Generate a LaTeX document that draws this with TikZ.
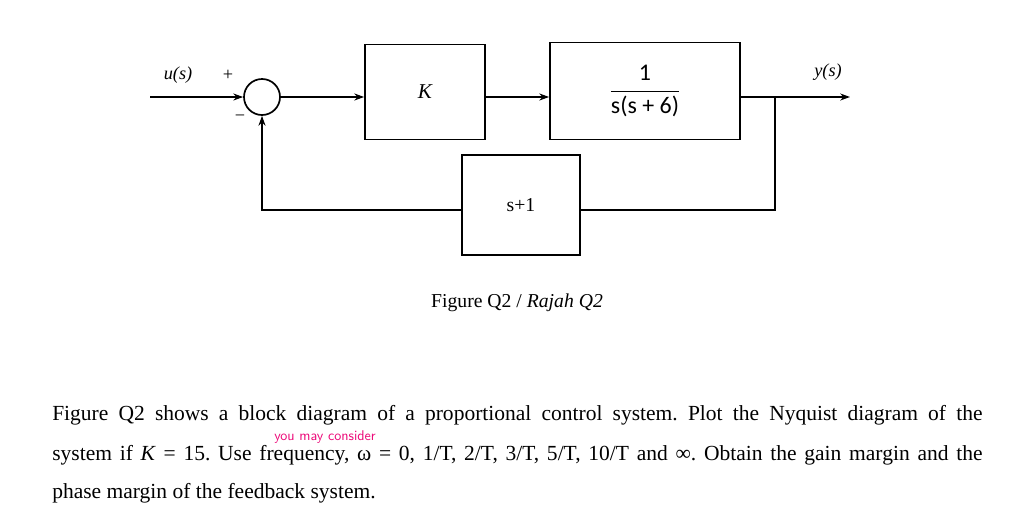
\documentclass[tikz,border=0pt]{standalone}
\usepackage{fontspec}
\setmainfont{Liberation Serif}
\newfontfamily\calib{Carlito}
\usetikzlibrary{arrows.meta}
\frenchspacing
\begin{document}
\begin{tikzpicture}[x=0.025cm,y=-0.025cm,
  blk/.style={draw,line width=1.2pt,inner sep=0},
  ln/.style={line width=1pt},
  arr/.style={ln,-{Stealth[length=7pt,width=5pt]}},
  para/.style={anchor=west,inner sep=0,font=\fontsize{15.3}{17}\selectfont}]
\useasboundingbox (0,0) rectangle (1036,526);
\node[circle,draw,line width=1.2pt,minimum size=0.9cm,inner sep=0] (sum) at (262,97) {};
\node[blk,minimum width=3cm,minimum height=2.38cm] (K) at (425,92) {\fontsize{15}{17}\selectfont\itshape K};
\node[blk,minimum width=4.75cm,minimum height=2.42cm] (G) at (645,91) {\calib\fontsize{17}{19}\selectfont$\displaystyle\frac{\textrm{\calib 1}}{\textrm{\calib s(s + 6)}}$};
\node[blk,minimum width=2.95cm,minimum height=2.5cm] (H) at (521,205) {\fontsize{14}{16}\selectfont s+1};
\coordinate (in) at (150,97);
\coordinate (out) at (850,97);
\coordinate (br) at (775,97);
\coordinate (c1) at (775,210);
\coordinate (c2) at (262,210);
\draw[arr] (in) -- (sum.west);
\draw[arr] (sum.east) -- (K.west |- sum);
\draw[arr] (K.east |- sum) -- (G.west |- sum);
\draw[arr] (G.east |- sum) -- (out);
\draw[ln] (br) -- (c1) -- (H.east |- c1);
\draw[arr] (H.west |- c2) -- (c2) -- (sum.south);
\node at (178,75) {\fontsize{13}{15}\selectfont\itshape u(s)};
\node at (228,75) {\fontsize{13}{15}\selectfont +};
\node at (240,118) {\fontsize{13}{15}\selectfont −};
\node at (828,72) {\fontsize{13}{15}\selectfont\itshape y(s)};
\node (cap) at (517,303) {\fontsize{14}{16}\selectfont Figure Q2 / \textit{Rajah Q2}};
\node[para] (l1) at (52,415) {\hbox to 23.25cm{Figure Q2 shows a block diagram of a proportional control system. Plot the Nyquist diagram of the}};
\node[para] (l2) at (52,455) {\hbox to 23.25cm{system if \textit{K} = 15. Use frequency, ω = 0, 1/T, 2/T, 3/T, 5/T, 10/T and ∞. Obtain the gain margin and the}};
\node[para] (l3) at (52,493) {phase margin of the feedback system.};
\node[text=magenta!80!red,font=\sffamily\fontsize{10}{10}\selectfont] (hw) at (325,437) {you may consider};
\end{tikzpicture}
\end{document}
